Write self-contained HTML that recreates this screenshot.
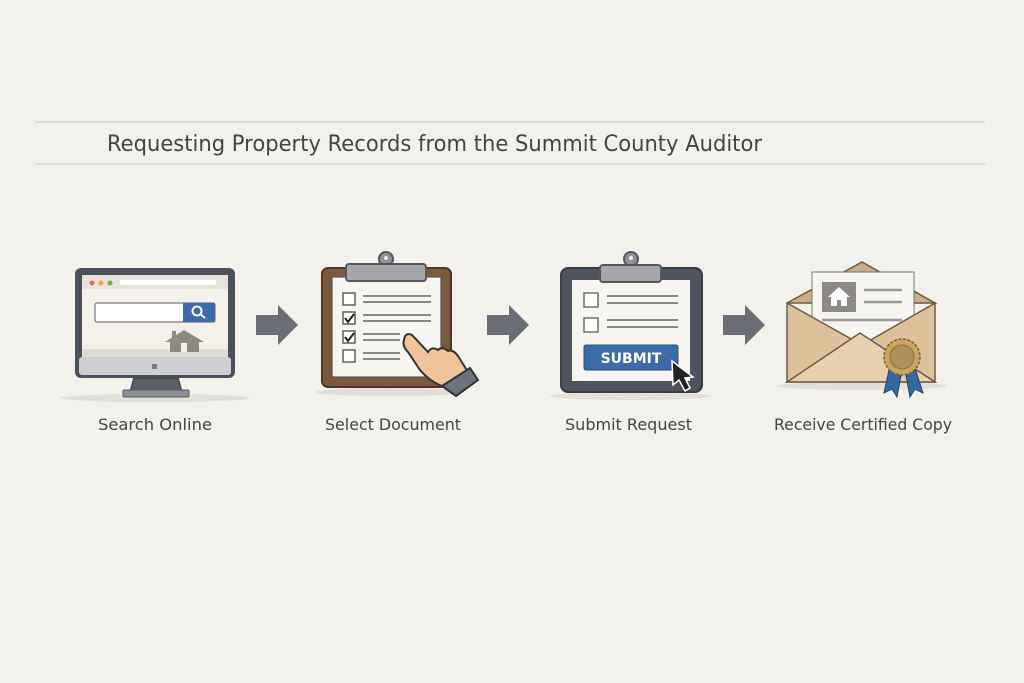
<!DOCTYPE html>
<html><head><meta charset="utf-8"><style>
html,body{margin:0;padding:0;background:#f3f1ec;}
svg{display:block}
text{font-family:"DejaVu Sans","Liberation Sans",sans-serif;}
</style></head><body>
<svg width="1024" height="683" viewBox="0 0 1024 683" xmlns="http://www.w3.org/2000/svg">
<rect width="1024" height="683" fill="#f3f1ec"/>
<line x1="35" y1="122" x2="985" y2="122" stroke="#d9d5cd" stroke-width="1.5"/>
<line x1="35" y1="164" x2="985" y2="164" stroke="#d9d5cd" stroke-width="1.5"/>
<text x="107" y="151" font-size="22" fill="#444" textLength="655" lengthAdjust="spacingAndGlyphs">Requesting Property Records from the Summit County Auditor</text>

<!-- shadows -->
<ellipse cx="155" cy="398" rx="95" ry="4" fill="#e3e0d9"/>
<ellipse cx="390" cy="392" rx="75" ry="4" fill="#e3e0d9"/>
<ellipse cx="630" cy="396" rx="80" ry="4" fill="#e3e0d9"/>
<ellipse cx="862" cy="386" rx="85" ry="4" fill="#e3e0d9"/>

<!-- monitor -->
<rect x="75" y="268" width="160" height="110" rx="6" fill="#4b505a"/>
<rect x="82" y="275" width="146" height="82" fill="#f4f1ea"/>
<rect x="82" y="275" width="146" height="14" fill="#e6e3dc"/>
<circle cx="92" cy="283" r="2.5" fill="#e07050"/>
<circle cx="101" cy="283" r="2.5" fill="#e8b040"/>
<circle cx="110" cy="283" r="2.5" fill="#70b050"/>
<rect x="120" y="280" width="96" height="5" fill="#fff"/>
<rect x="82" y="349" width="146" height="8" fill="#e0ddd6"/>
<rect x="79" y="357" width="152" height="18" rx="3" fill="#cdcfd3"/>
<rect x="152" y="364" width="5" height="5" fill="#777"/>
<polygon points="134,378 178,378 182,392 130,392" fill="#5b6068" stroke="#44484f" stroke-width="1.5"/>
<rect x="123" y="390" width="66" height="7" rx="1" fill="#8a8e95" stroke="#55595f"/>
<rect x="95" y="303" width="120" height="19" rx="2" fill="#fff" stroke="#777" stroke-width="1.2"/>
<rect x="183" y="303" width="32" height="19" fill="#3d6aa8"/>
<circle cx="197" cy="311" r="4.5" fill="none" stroke="#fff" stroke-width="2"/>
<line x1="200" y1="314" x2="205" y2="318" stroke="#fff" stroke-width="2"/>
<polygon points="165,342 184,330 204,342 199,342 199,352 170,352 170,342" fill="#8d8a84"/>
<rect x="172" y="331" width="4" height="7" fill="#8d8a84"/>
<rect x="181" y="343" width="6" height="9" fill="#f4f1ea"/>

<!-- arrows -->
<polygon points="256,315 278,315 278,305 298,325 278,345 278,335 256,335" fill="#6b6e76"/>
<polygon points="487,315 509,315 509,305 529,325 509,345 509,335 487,335" fill="#6b6e76"/>
<polygon points="723,315 745,315 745,305 765,325 745,345 745,335 723,335" fill="#6b6e76"/>

<!-- clipboard 1 -->
<rect x="322" y="268" width="129" height="119" rx="6" fill="#7a5a3e" stroke="#4a3828" stroke-width="2"/>
<rect x="332" y="277" width="109" height="100" fill="#f7f5f0" stroke="#555" stroke-width="1.2"/>
<circle cx="386" cy="259" r="7" fill="#8f9196" stroke="#55585e" stroke-width="2"/>
<circle cx="386" cy="258" r="2" fill="#eee"/>
<rect x="346" y="264" width="80" height="17" rx="3" fill="#a5a7ab" stroke="#55585e" stroke-width="2"/>
<g fill="#fff" stroke="#555" stroke-width="1.4">
<rect x="343" y="293" width="12" height="12"/><rect x="343" y="312" width="12" height="12"/>
<rect x="343" y="331" width="12" height="12"/><rect x="343" y="350" width="12" height="12"/>
</g>
<path d="M345,318 l3,4 l6,-8 M345,337 l3,4 l6,-8" fill="none" stroke="#222" stroke-width="2"/>
<g stroke="#888" stroke-width="2">
<line x1="363" y1="296" x2="431" y2="296"/><line x1="363" y1="302" x2="431" y2="302"/>
<line x1="363" y1="315" x2="431" y2="315"/><line x1="363" y1="321" x2="431" y2="321"/>
<line x1="363" y1="334" x2="400" y2="334"/><line x1="363" y1="340" x2="400" y2="340"/>
<line x1="363" y1="353" x2="400" y2="353"/><line x1="363" y1="359" x2="400" y2="359"/>
</g>
<path d="M404,340 Q405,332 412,335 L428,352 Q432,346 438,350 Q442,346 448,351 Q453,349 458,356 L468,372 L448,388 Q432,384 420,370 L408,352 Q402,346 404,340 Z" fill="#f0c498" stroke="#333" stroke-width="2"/>
<polygon points="442,386 470,368 478,380 456,396" fill="#6e7380" stroke="#333" stroke-width="2"/>

<!-- clipboard 2 -->
<rect x="561" y="268" width="141" height="124" rx="7" fill="#4f535d" stroke="#3a3d44" stroke-width="2"/>
<rect x="572" y="280" width="118" height="101" fill="#f7f5f0"/>
<circle cx="631" cy="259" r="7" fill="#8f9196" stroke="#55585e" stroke-width="2"/>
<circle cx="631" cy="258" r="2" fill="#eee"/>
<rect x="600" y="265" width="61" height="17" rx="3" fill="#a5a7ab" stroke="#55585e" stroke-width="2"/>
<g fill="#fff" stroke="#666" stroke-width="1.4">
<rect x="584" y="293" width="14" height="14"/><rect x="584" y="318" width="14" height="14"/>
</g>
<g stroke="#888" stroke-width="2">
<line x1="607" y1="296" x2="678" y2="296"/><line x1="607" y1="303" x2="678" y2="303"/>
<line x1="607" y1="320" x2="678" y2="320"/><line x1="607" y1="327" x2="678" y2="327"/>
</g>
<rect x="584" y="345" width="94" height="25" rx="2" fill="#3d6aa8" stroke="#2b4f80"/>
<text x="631" y="363" font-size="14" font-weight="bold" fill="#fff" text-anchor="middle">SUBMIT</text>
<polygon points="672,361 673,385 679,380 685,391 690,388 685,378 693,377" fill="#222" stroke="#fff" stroke-width="1.5"/>

<!-- envelope -->
<polygon points="787,303 862,262 935,303" fill="#c9ae88" stroke="#6d5a44" stroke-width="1.5"/>
<rect x="812" y="272" width="102" height="70" fill="#f7f5f0" stroke="#777"/>
<rect x="822" y="282" width="34" height="30" fill="#8d8a84"/>
<polygon points="828,297 839,287 850,297 847,297 847,306 831,306 831,297" fill="#fff"/>
<rect x="837" y="300" width="4" height="6" fill="#8d8a84"/>
<g stroke="#999" stroke-width="2.5"><line x1="864" y1="290" x2="902" y2="290"/><line x1="864" y1="302" x2="902" y2="302"/><line x1="822" y1="320" x2="902" y2="320"/></g>
<polygon points="787,303 862,345 935,303 935,382 787,382" fill="#dcc29c" stroke="#6d5a44" stroke-width="1.5"/>
<polygon points="787,382 860,333 935,382" fill="#e6d0ae" stroke="#6d5a44" stroke-width="1.5"/>
<polygon points="890,365 884,393 892,389 897,397 902,370" fill="#3568a0" stroke="#1f4570"/>
<polygon points="905,370 910,397 915,389 923,393 914,365" fill="#3568a0" stroke="#1f4570"/>
<circle cx="902" cy="357" r="18" fill="#c9a560" stroke="#7a6030" stroke-width="1.5" stroke-dasharray="3 1.5"/>
<circle cx="902" cy="357" r="12" fill="#b0905a" stroke="#8a7040"/>

<!-- labels -->
<g font-size="16" fill="#444" font-family="Liberation Sans, sans-serif">
<text x="98" y="430" textLength="114" lengthAdjust="spacingAndGlyphs">Search Online</text>
<text x="325" y="430" textLength="136" lengthAdjust="spacingAndGlyphs">Select Document</text>
<text x="565" y="430" textLength="127" lengthAdjust="spacingAndGlyphs">Submit Request</text>
<text x="774" y="430" textLength="178" lengthAdjust="spacingAndGlyphs">Receive Certified Copy</text>
</g>
</svg>
</body></html>
